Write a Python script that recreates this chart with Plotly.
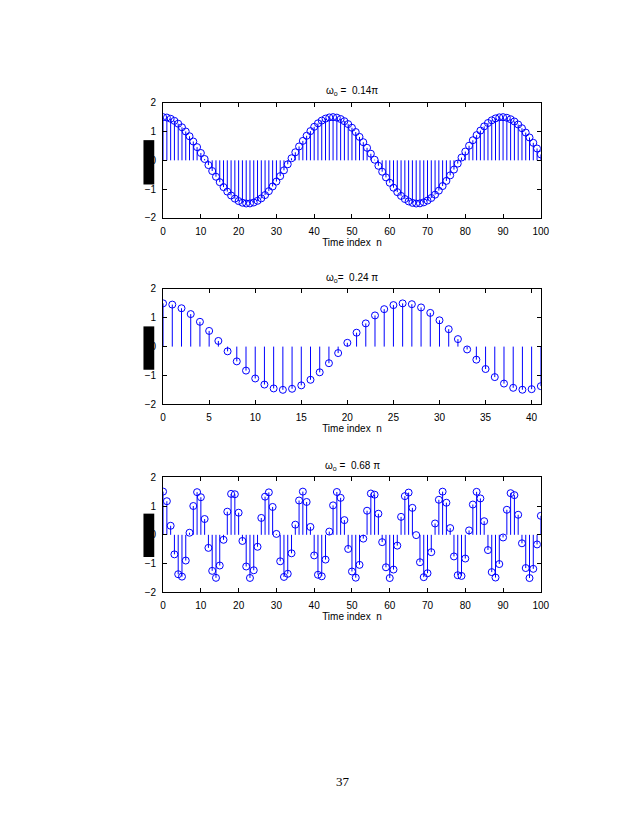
import plotly.graph_objects as go

n1 = list(range(101))
y1 = [1.5,1.485,1.442,1.370,1.271,1.147,1.001,0.836,0.654,0.459,0.255,0.046,-0.164,-0.370,-0.569,-0.757,-0.929,-1.085,-1.219,-1.329,-1.413,-1.471,-1.497,-1.495,-1.463,-1.405,-1.318,-1.205,-1.068,-0.907,-0.735,-0.548,-0.346,-0.137,0.072,0.280,0.482,0.675,0.853,1.014,1.163,1.284,1.380,1.448,1.489,1.500,1.482,1.434,1.359,1.257,1.131,0.982,0.814,0.630,0.435,0.230,0.021,-0.189,-0.395,-0.592,-0.778,-0.950,-1.102,-1.234,-1.342,-1.423,-1.475,-1.498,-1.492,-1.458,-1.395,-1.306,-1.191,-1.052,-0.892,-0.713,-0.521,-0.321,-0.113,0.097,0.305,0.507,0.698,0.875,1.032,1.179,1.295,1.389,1.455,1.492,1.499,1.477,1.427,1.348,1.243,1.114,0.963,0.793,0.608,0.411,0.205]
n2 = list(range(42))
y2 = [1.5,1.457,1.330,1.128,0.860,0.544,0.196,-0.164,-0.513,-0.833,-1.106,-1.317,-1.451,-1.500,-1.463,-1.345,-1.152,-0.892,-0.576,-0.225,0.131,0.482,0.805,1.081,1.299,1.440,1.499,1.471,1.359,1.169,0.912,0.604,0.260,-0.099,-0.453,-0.778,-1.058,-1.283,-1.430,-1.497,-1.477,-1.372]
n3 = list(range(101))
y3 = [1.5,1.166,0.314,-0.678,-1.367,-1.450,-0.892,0.072,1.000,1.480,1.304,0.548,-0.453,-1.250,-1.492,-1.065,-0.173,0.803,1.421,1.407,0.767,-0.213,-1.099,-1.496,-1.230,-0.415,0.586,1.324,1.473,0.967,0.031,-0.919,-1.461,-1.352,-0.641,0.353,1.191,1.499,1.140,0.274,-0.715,-1.386,-1.439,-0.859,0.112,1.022,1.486,1.283,0.510,-0.490,-1.273,-1.487,-1.042,-0.132,0.836,1.433,1.393,0.732,-0.254,-1.126,-1.499,-1.205,-0.375,0.623,1.342,1.465,0.935,-0.010,-0.951,-1.469,-1.333,-0.602,0.394,1.216,1.498,1.113,0.234,-0.750,-1.402,-1.426,-0.823,0.153,1.051,1.491,1.262,0.472,-0.529,-1.294,-1.482,-1.014,-0.092,0.869,1.445,1.377,0.696,-0.294,-1.153,-1.500,-1.180,-0.334,0.659]

titles = ["ω<sub>o</sub> =  0.14π", "ω<sub>o</sub>=  0.24 π", "ω<sub>o</sub> =  0.68 π"]
xranges = [[0, 100], [0, 41], [0, 100]]
xticks = [list(range(0, 101, 10)), list(range(0, 41, 5)), list(range(0, 101, 10))]
ypx = [(90, 207), (279, 396), (470, 587)]
boxes = [(128, 173), (317, 361), (507, 551)]

BLUE = "#0000ff"
FONT = dict(family="Liberation Sans, Arial", size=10, color="black")
fig = go.Figure()
for i, (n, y) in enumerate([(n1, y1), (n2, y2), (n3, y3)]):
    sx, sy = [], []
    for a, b in zip(n, y):
        sx += [a, a, None]
        sy += [0, b, None]
    ax = "" if i == 0 else str(i + 1)
    fig.add_trace(go.Scatter(x=sx, y=sy, mode="lines", line=dict(color=BLUE, width=1),
                             xaxis="x" + ax, yaxis="y" + ax, hoverinfo="skip"))
    fig.add_trace(go.Scatter(x=n, y=y, mode="markers", xaxis="x" + ax, yaxis="y" + ax,
                             marker=dict(symbol="circle-open", size=7, color=BLUE, line=dict(width=1))))
    common = dict(showgrid=False, zeroline=False, showline=True, linecolor="black", linewidth=1,
                  mirror="ticks", ticks="inside", ticklen=4, tickcolor="black", tickfont=FONT,
                  ticklabelstandoff=4)
    dom = [1 - ypx[i][1]/826, 1 - ypx[i][0]/826]
    fig.layout["xaxis" + ax] = dict(domain=[155/638, 540/638], range=xranges[i], anchor="y" + ax,
                                   tickvals=xticks[i], title=dict(text="Time index  n", font=FONT, standoff=0), **common)
    fig.layout["yaxis" + ax] = dict(domain=dom, range=[-2, 2], anchor="x" + ax,
                                   tickvals=[-2, -1, 0, 1, 2], **common)
    fig.add_annotation(text=titles[i], x=348/638, y=dom[1] + 0.004, xref="paper", yref="paper",
                       xanchor="center", yanchor="bottom", showarrow=False, font=FONT)
    fig.add_shape(type="rect", xref="paper", yref="paper", x0=135/638, x1=146/638,
                  y0=1 - boxes[i][1]/826, y1=1 - boxes[i][0]/826,
                  fillcolor="black", line=dict(width=0))

fig.add_annotation(text="37", x=338/638, y=1 - 788/826, xref="paper", yref="paper", showarrow=False,
                   font=dict(family="Liberation Serif, Times New Roman", size=13, color="black"))
fig.update_layout(width=638, height=826, margin=dict(l=0, r=0, t=0, b=0), showlegend=False,
                  paper_bgcolor="white", plot_bgcolor="white")
fig.write_html("out.html")
